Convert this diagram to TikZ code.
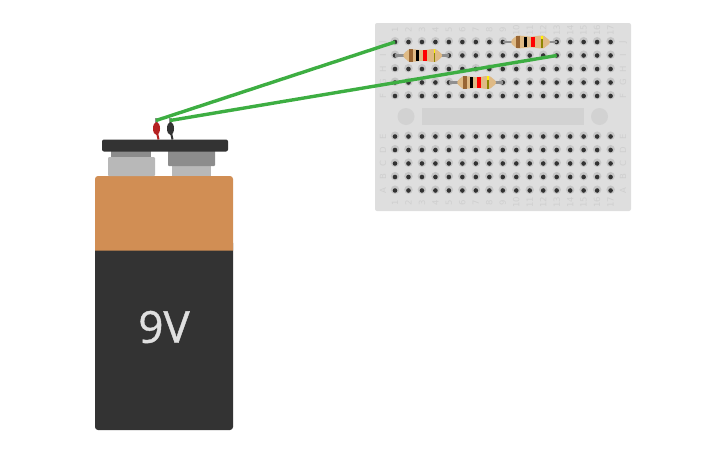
\documentclass[tikz,border=0pt]{standalone}
\usepackage{fontspec}
\setmainfont{DejaVu Sans}
\newfontfamily\labelfont[RawFeature={embolden=0.9}]{Open Sans}
\usepackage{tikz}
\usetikzlibrary{positioning, shapes.geometric}
\definecolor{board}{HTML}{DEDEDE}
\definecolor{boardgap}{HTML}{D2D2D2}
\definecolor{boardtext}{HTML}{CFCFCF}
\definecolor{holering}{HTML}{C6C6C6}
\definecolor{holedot}{HTML}{333333}
\definecolor{batdark}{HTML}{333333}
\definecolor{batcopper}{HTML}{D18E54}
\definecolor{capmid}{HTML}{8C8C8C}
\definecolor{caplight}{HTML}{B8B8B8}
\definecolor{wiregreen}{HTML}{3DAE42}
\definecolor{restan}{HTML}{DFBA85}
\definecolor{leadgray}{HTML}{8F8F8F}
\definecolor{clipred}{HTML}{B52222}
\tikzset{
	hole/.style={circle, fill=holedot, minimum size=4.6pt, inner sep=0pt},
	ring/.style={circle, fill=holering, minimum size=8.5pt, inner sep=0pt},
	boardlabel/.style={text=boardtext, font=\fontsize{8.5}{8.5}\selectfont, rotate=90, inner sep=0pt},
	clipbody/.style={ellipse, fill=#1, minimum width=7pt, minimum height=13pt, inner sep=0pt},
	mount/.style={circle, fill=boardgap, minimum size=17pt, inner sep=0pt},
	wire/.style={draw=wiregreen, line width=3.4pt},
	lead/.style={draw=leadgray, line width=2.2pt},
	band/.style={line width=#1, line cap=butt},
	pics/resistor/.style={code={
		\fill[restan, rounded corners=1pt] (-18.5,-1.5) -- (-13,-6.4) .. controls (-8,-6.8) and (-5,-5.4) .. (1,-5.4)
			.. controls (6,-5.4) and (9,-6.8) .. (14,-6.4) -- (20,-1.5) -- (20,1.5) -- (14,6.4)
			.. controls (9,6.8) and (6,5.4) .. (1,5.4)
			.. controls (-5,5.4) and (-8,6.8) .. (-13,6.4) -- (-18.5,1.5) -- cycle;
		\draw[band=4pt, draw=brown!80!black] (-11.3,-6.4) -- (-11.3,6.4);
		\draw[band=3.6pt, draw=black] (-4.3,-5.4) -- (-4.3,5.4);
		\draw[band=3.6pt, draw=red] (3,-5.4) -- (3,5.4);
		\draw[band=1.5pt, draw=olive] (12.3,-6.4) -- (12.3,6.4);
		\draw[band=1.5pt, draw=yellow] (12.3,-6.4) -- (12.3,-3);
	}},
}
\begin{document}
\begin{tikzpicture}[x=1pt, y=-1pt]
	\useasboundingbox (0,0) rectangle (725,453);
	% battery
	\fill[batdark, rounded corners=3pt] (95,240) rectangle (233,430);
	\fill[batcopper] (95,250.5) [rounded corners=3pt] -- (95,176) -- (233,176) [sharp corners] -- (233,250.5) -- cycle;
	\fill[capmid] (111,151) rectangle (151,158);
	\fill[caplight, rounded corners=1pt] (108,157) rectangle (155,176);
	\fill[caplight] (172,165) rectangle (211,176);
	\fill[capmid, rounded corners=1pt] (168,150) rectangle (215,166);
	\fill[batdark, rounded corners=2pt] (102,139.5) rectangle (228,151.5);
	\node[text=white!88!black, font=\labelfont\fontsize{44}{44}\selectfont] (label9v) at (164,327) {9V};
	% clips
	\draw[lead] (156.5,118) -- (156.5,126);
	\draw[lead] (170.5,118) -- (170.5,126);
	\draw[clipred, line width=2pt] (156.5,130) -- (158.5,139.5);
	\draw[batdark, line width=2pt] (170.5,130) -- (172.5,139.5);
	\node[clipbody=clipred] (clipleft) at (156.5,128.5) {};
	\node[clipbody=batdark] (clipright) at (170.5,128.5) {};
	\coordinate (tipred) at (156,120.5);
	\coordinate (tipblack) at (170,120.5);
	% breadboard
	\fill[board, rounded corners=2pt] (375,23) rectangle (631,211);
	\fill[boardgap] (422,108) rectangle (584,125);
	\node[mount] (mountleft) at (406,116.5) {};
	\node[mount] (mountright) at (599.5,116.5) {};
	\foreach \row/\rowy in {J/42, I/55.5, H/69, G/82.5, F/96, E/136.5, D/150, C/163.5, B/177, A/190.5} {
		\node[boardlabel] (left\row) at (383,\rowy) {\row};
		\node[boardlabel] (right\row) at (623,\rowy) {\row};
		\foreach \col in {1,...,17} {
			\node[ring] (ring\row\col) at ({395+(\col-1)*13.475},\rowy-0.8) {};
			\node[hole] (hole\row\col) at ({395+(\col-1)*13.475},\rowy) {};
		}
	}
	\foreach \col in {1,...,17} {
		\node[boardlabel] (top\col) at ({395+(\col-1)*13.475},30) {\col};
		\node[boardlabel] (bot\col) at ({395+(\col-1)*13.475},202.5) {\col};
	}
	% resistors
	\draw[lead] (holeI1.center) -- (holeI5.center);
	\draw[lead] (holeG5.center) -- (holeG9.center);
	\draw[lead] (holeJ9.center) -- (holeJ13.center);
	\path (holeI1.center) -- coordinate[pos=0.5] (resone) (holeI5.center);
	\path (holeG5.center) -- coordinate[pos=0.5] (restwo) (holeG9.center);
	\path (holeJ9.center) -- coordinate[pos=0.5] (resthree) (holeJ13.center);
	\pic at (resone) {resistor};
	\pic at (restwo) {resistor};
	\pic at (resthree) {resistor};
	% wires
	\draw[wire] (tipred) -- (holeJ1.center);
	\draw[wire] (tipblack) -- (holeI13.center);
\end{tikzpicture}
\end{document}
